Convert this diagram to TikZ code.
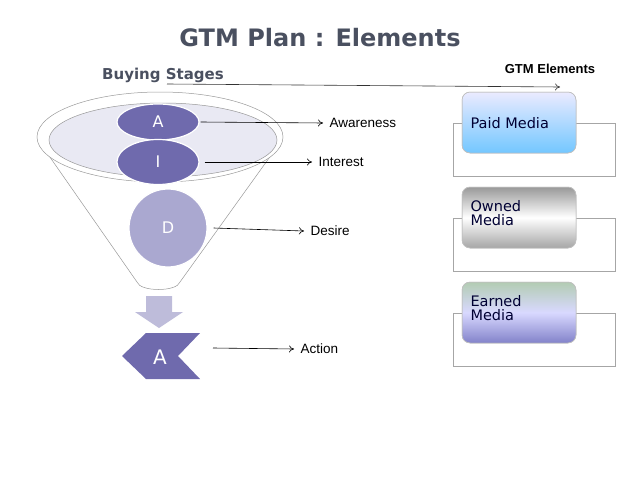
\documentclass[tikz,border=0pt]{standalone}
\usepackage{fontspec}
\setmainfont{Liberation Sans}
\newfontfamily\dv{DejaVu Sans}
\usetikzlibrary{shapes.geometric,arrows.meta}
\definecolor{stage}{HTML}{6F6AAD}
\definecolor{stagelight}{HTML}{AAA8D0}
\definecolor{titlegray}{HTML}{4A5060}
\tikzset{
  stg/.style={ellipse,fill=stage,draw=white,line width=1.2pt,text=white,font=\dv\fontsize{16}{16}\selectfont},
  lbl/.style={anchor=west,font=\fontsize{13.5}{14}\selectfont},
  con/.style={-{>[length=5pt,width=7pt]},line width=0.6pt},
  frame/.style={draw=gray!70,line width=0.5pt},
  media/.style={rounded corners=8pt,draw=gray!50,line width=0.5pt},
  mtext/.style={anchor=north west,align=left,text=blue!20!black,font=\dv\fontsize{14.5}{16}\selectfont}
}
\begin{document}
\begin{tikzpicture}[x=1pt,y=-1pt]
\useasboundingbox (0,0) rectangle (638,479);
% titles
\node[text=titlegray,font=\dv\bfseries\fontsize{24}{26}\selectfont] (title) at (320,38) {GTM Plan : Elements};
\node[text=titlegray,font=\dv\bfseries\fontsize{15}{16}\selectfont] (bs) at (163,75) {Buying Stages};
\node[font=\bfseries\fontsize{13}{14}\selectfont] (ge) at (550,69) {GTM Elements};
\coordinate (bsend) at (167,84);
\coordinate (geend) at (560,87);
\draw[con,draw=black!80] (bsend) -- (geend);
% funnel
\fill[white,draw=gray!80,line width=0.5pt] (282,140) .. controls (282,100) and (38,100) .. (38,140)
  -- (137,282) .. controls (140,292) and (177,292) .. (180,282) -- (282,140) -- cycle;
\draw[gray!80,line width=0.5pt,fill=white] (160,137) ellipse (123 and 45);
\draw[gray!80,line width=0.5pt,fill=stage!15] (163,140) ellipse (114 and 37);
\node[stg,minimum width=82pt,minimum height=36pt] (a1) at (158,122) {A};
\node[stg,minimum width=82pt,minimum height=45pt] (i1) at (158,162) {I};
\node[stg,circle,fill=stagelight,minimum size=78pt] (d1) at (168,228) {D};
% down arrow
\fill[stage!45] (146,296) -- (172,296) -- (172,312) -- (183,312) -- (159,328) -- (135,312) -- (146,312) -- cycle;
% chevron
\fill[stage] (122,356) -- (146,333) -- (200,333) -- (178,356) -- (200,379) -- (146,379) -- cycle;
\node[text=white,font=\dv\fontsize{20}{20}\selectfont] (a2) at (160,357) {A};
% labels
\node[lbl] (aw) at (326,123) {Awareness};
\node[lbl] (in) at (315,162) {Interest};
\node[lbl] (de) at (307,231) {Desire};
\node[lbl] (ac) at (297,349) {Action};
\draw[con] (a1.east) ++(1,0) -- ([xshift=-3pt]aw.west);
\draw[con] (i1.east) ++(5,0) -- ([xshift=-3pt]in.west);
\draw[con] (d1.east) ++(6,0) -- ([xshift=-3pt]de.west);
\draw[con] (213,348) -- ([xshift=-3pt]ac.west);
% GTM elements
\draw[frame] (453,123) rectangle (615,176);
\draw[frame] (453,218) rectangle (615,271);
\draw[frame] (453,313) rectangle (615,366);
\shade[media,top color=blue!8,bottom color=blue!40!cyan!55] (462,92) rectangle (576,153);
\draw[media] (462,92) rectangle (576,153);
\shade[media,top color=gray!80,bottom color=gray!70,middle color=white] (462,187) rectangle (576,248);
\draw[media] (462,187) rectangle (576,248);
\shade[media,top color=green!20!gray!50,bottom color=blue!40!gray!70,middle color=blue!15] (462,282) rectangle (576,343);
\draw[media] (462,282) rectangle (576,343);
\node[mtext,anchor=west] (pm) at (467,123) {Paid Media};
\node[mtext] (om) at (467,197) {Owned\\[-2pt]Media};
\node[mtext] (em) at (467,292) {Earned\\[-2pt]Media};
\end{tikzpicture}
\end{document}
